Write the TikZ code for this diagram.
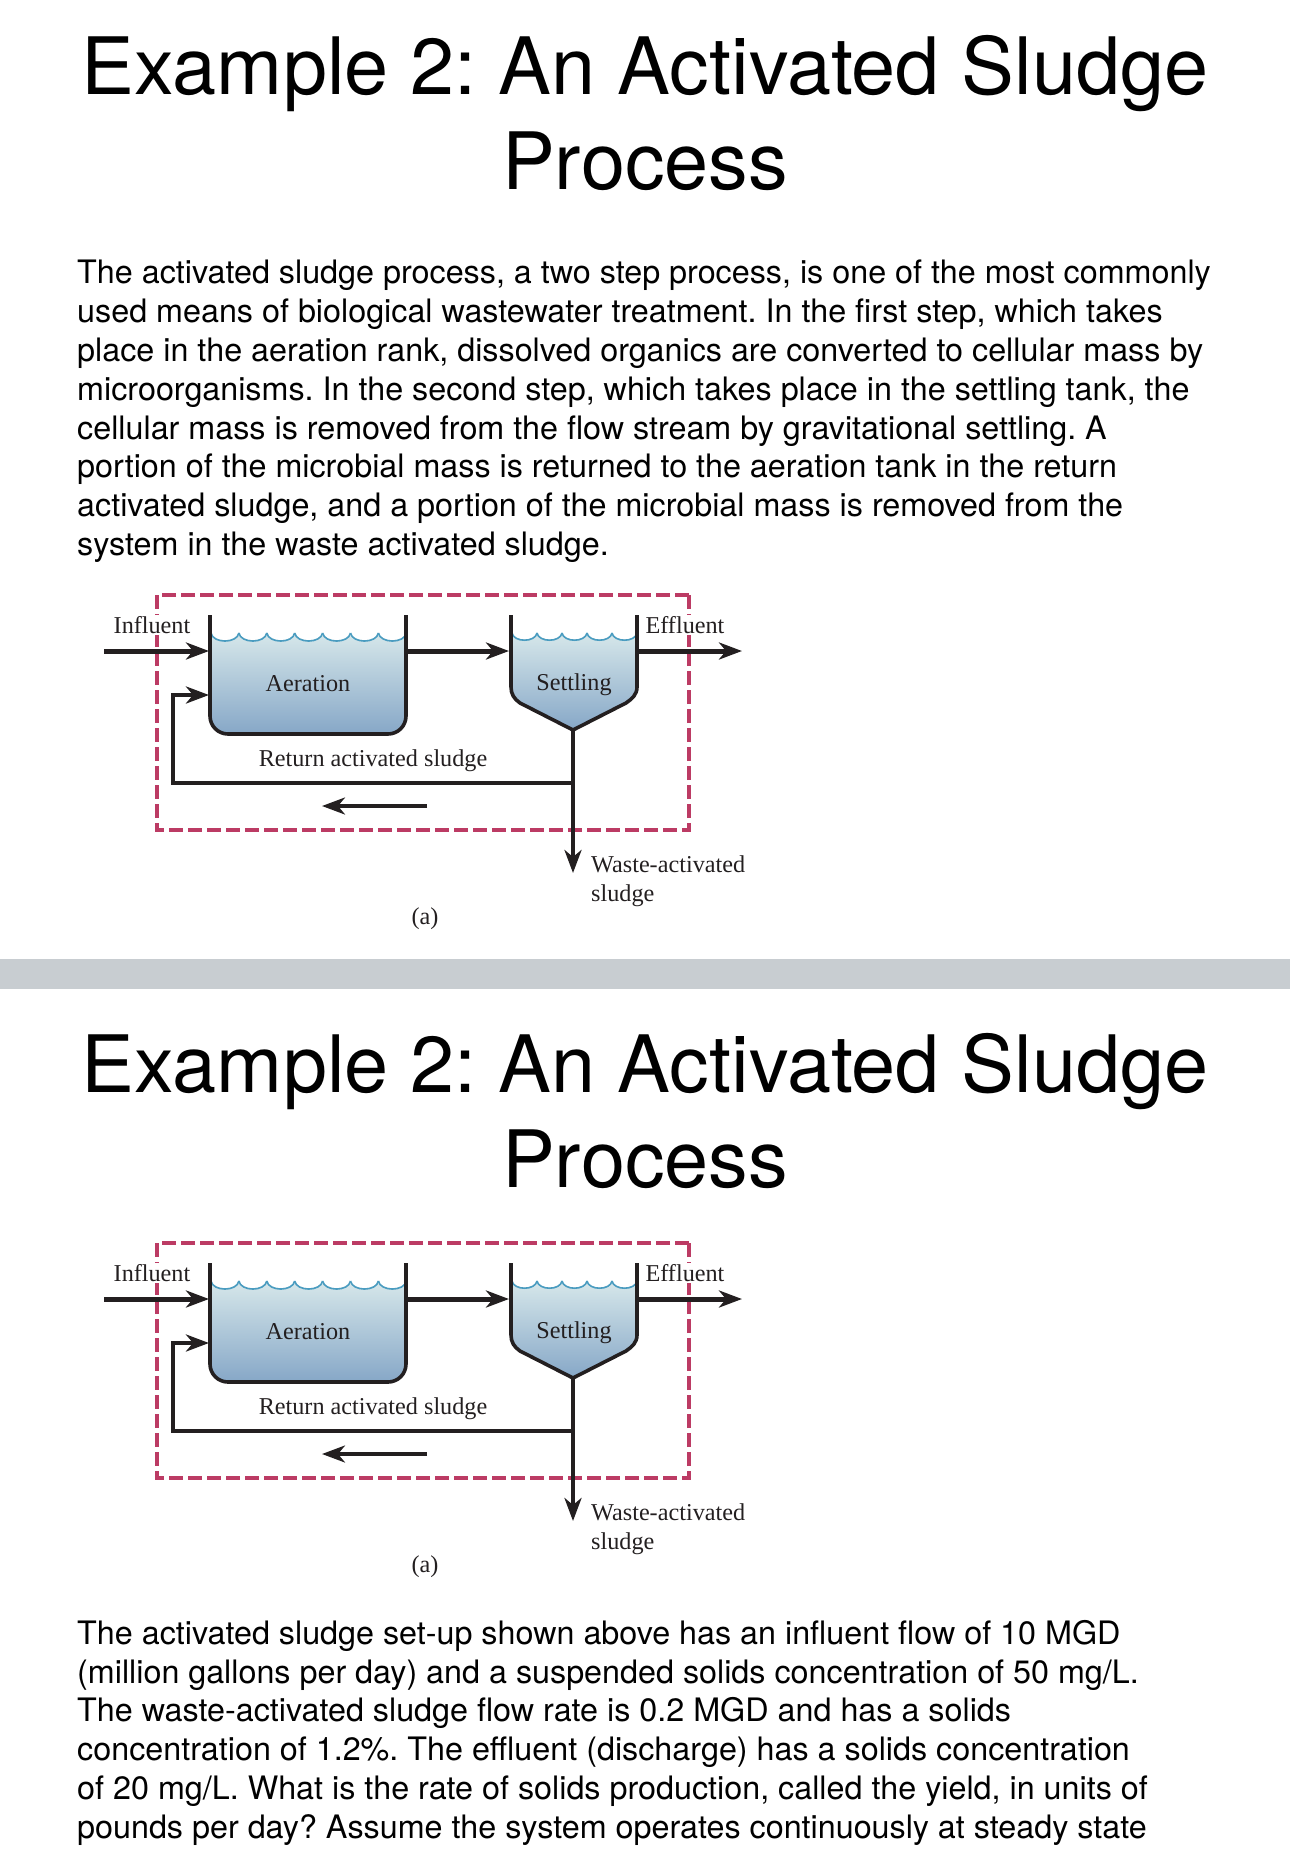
\documentclass[tikz,border=0pt]{standalone}
\usepackage{fontspec}
\setmainfont{TeX Gyre Heros}
\newfontfamily\figfont{Liberation Serif}
\usetikzlibrary{arrows.meta}
\AtBeginDocument{\frenchspacing}

\definecolor{inkcol}{HTML}{231F20}
\definecolor{boxcol}{HTML}{BC3B64}
\definecolor{wavecol}{HTML}{4A9CC0}
\definecolor{bandcol}{HTML}{C8CDD1}
\definecolor{tanktop}{HTML}{D6E7EA}
\definecolor{tankbot}{HTML}{86A7C7}

\tikzset{
    title node/.style={font=\fontsize{79.2}{94.6}\selectfont, align=center, inner sep=0pt},
    body node/.style={font=\fontsize{32.3}{38.8}\selectfont, align=left, anchor=north west, inner sep=0pt},
    fig label/.style={font=\figfont\fontsize{24.2}{30}\selectfont, text=inkcol, inner sep=0pt},
    flow line/.style={draw=inkcol, line width=5pt, -{Stealth[length=23pt, width=17pt, inset=7pt]}},
    tank wall/.style={draw=inkcol, line width=3.6pt, line join=round},
    wave line/.style={draw=wavecol, line width=1.6pt},
    pics/sludge fig/.style={code={
        % tanks
        \shade[bottom color=tankbot, top color=tanktop] (210,633) -- (210,716) to[out=-90,in=180] (228,734) -- (388,734) to[out=0,in=-90] (406,716) -- (406,633) -- cycle;
        \shade[bottom color=tankbot, top color=tanktop] (511,633) -- (511,687) to[out=-90,in=145] (520,703) -- (573,730) -- (626,703) to[out=35,in=-90] (637,687) -- (637,633) -- cycle;
        \foreach \i in {0,...,6} {
            \fill[white] (211+27.9*\i,632) to[out=-80,in=-100] (238.9+27.9*\i,632) -- cycle;
            \draw[wave line] (211+27.9*\i,633) to[out=-80,in=-100] (238.9+27.9*\i,633);
        }
        \foreach \i in {0,...,4} {
            \fill[white] (512+25*\i,632) to[out=-80,in=-100] (537+25*\i,632) -- cycle;
            \draw[wave line] (512+25*\i,633) to[out=-80,in=-100] (537+25*\i,633);
        }
        \draw[tank wall] (210,615) -- (210,716) to[out=-90,in=180] (228,734) -- (388,734) to[out=0,in=-90] (406,716) -- (406,615);
        \draw[tank wall] (511,615) -- (511,687) to[out=-90,in=145] (520,703) -- (573,730) -- (626,703) to[out=35,in=-90] (637,687) -- (637,615);

        % system boundary
        \draw[draw=boxcol, line width=4pt, dash pattern=on 14pt off 5pt] (689,595) -- (157,595) -- (157,830) -- (689,830) -- cycle;

        % flow points
        \coordinate (-in) at (104,651);
        \coordinate (-a1) at (209,651);
        \coordinate (-a2) at (408,651);
        \coordinate (-s1) at (509,651);
        \coordinate (-s2) at (639,651);
        \coordinate (-out) at (742,651);
        \coordinate (-tip) at (573,731);
        \coordinate (-tee) at (573,783);
        \coordinate (-low) at (573,873);
        \coordinate (-ret) at (173,783);
        \coordinate (-up) at (173,695);
        \coordinate (-a3) at (209,695);
        \coordinate (-d1) at (427,806);
        \coordinate (-d2) at (322,806);

        \draw[flow line] (-in) -- (-a1);
        \draw[flow line] (-a2) -- (-s1);
        \draw[flow line] (-s2) -- (-out);
        \draw[flow line, line width=4.5pt] (-tee) -- (-ret) -- (-up) -- (-a3);
        \draw[flow line, line width=4pt] (-tip) -- (-low);
        \draw[flow line, line width=3.5pt] (-d1) -- (-d2);

        \node[fig label, fill=white, inner sep=1pt] (-lin)  at (152,625) {Influent};
        \node[fig label, fill=white, inner sep=1pt] (-lout) at (685,625) {Effluent};
        \node[fig label] (-laer) at (308,684) {Aeration};
        \node[fig label] (-lset) at (574,685) {Settling};
        \node[fig label] (-lret) at (373,761) {Return activated sludge};
        \node[fig label, anchor=west] (-lw1) at (591,864) {Waste-activated};
        \node[fig label, anchor=west] (-lw2) at (591,896) {sludge};
        \node[fig label] (-lcap) at (425,919) {(a)};
    }}
}

\begin{document}
\begin{tikzpicture}[x=1pt, y=-1pt]
\useasboundingbox (0,0) rectangle (1290,1850);

% first slide
\node[title node] (title1) at (645,113) {Example 2: An Activated Sludge\\Process};
\node[body node] (intro) at (77,260) {The activated sludge process, a two step process, is one of the most commonly\\
used means of biological wastewater treatment. In the first step, which takes\\
place in the aeration rank, dissolved organics are converted to cellular mass by\\
microorganisms. In the second step, which takes place in the settling tank, the\\
cellular mass is removed from the flow stream by gravitational settling. A\\
portion of the microbial mass is returned to the aeration tank in the return\\
activated sludge, and a portion of the microbial mass is removed from the\\
system in the waste activated sludge.};
\pic (upper) at (0,0) {sludge fig};

% band between slides
\fill[bandcol] (0,959) rectangle (1290,989);

% second slide
\node[title node] (title2) at (645,1111) {Example 2: An Activated Sludge\\Process};
\pic (lower) at (0,648) {sludge fig};
\node[body node] (problem) at (77,1620) {The activated sludge set-up shown above has an influent flow of 10 MGD\\
(million gallons per day) and a suspended solids concentration of 50 mg/L.\\
The waste-activated sludge flow rate is 0.2 MGD and has a solids\\
concentration of 1.2\%. The effluent (discharge) has a solids concentration\\
of 20 mg/L. What is the rate of solids production, called the yield, in units of\\
pounds per day? Assume the system operates continuously at steady state};

\end{tikzpicture}
\end{document}
